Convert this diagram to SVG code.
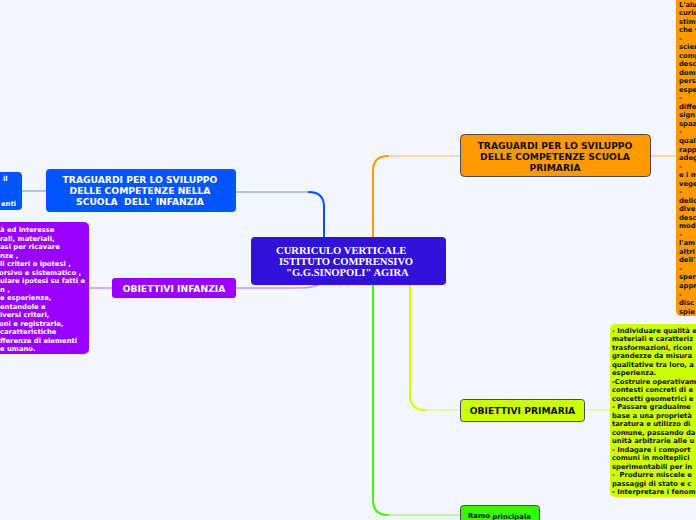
<svg xmlns="http://www.w3.org/2000/svg" width="696" height="520" viewBox="0 0 696 520">
<style>
.t{font-family:"DejaVu Sans",Verdana,sans-serif;font-weight:bold}
.h{font-size:9.2px;text-anchor:middle}
.b{font-size:6.8px}
.w{fill:#ffffff}
.k{fill:#111111}
.p{white-space:pre}
.c{font-family:"Liberation Serif","Times New Roman",serif;font-weight:bold;font-size:10.6px;fill:#ffffff}
.lk{fill:none;stroke-width:2;stroke-linecap:round}
.lt{fill:none;stroke-width:1.6;stroke-opacity:0.4}
.bd{stroke:#4a4a4a;stroke-width:1}
</style>
<rect x="0" y="0" width="696" height="520" fill="#f3f6fe"/>
<g id="connectors">
<path class="lk" d="M324,237 V207 Q324,192 309,192" stroke="#0055ff"/>
<path class="lt" d="M309,192 H236" stroke="#0055ff"/>
<path class="lt" d="M22,191 H46" stroke="#0055ff"/>
<path class="lk" d="M373,237 V171 Q373,156 388,156" stroke="#ff9900"/>
<path class="lt" d="M388,156 H461" stroke="#ff9900"/>
<path class="lt" d="M651,156 H676" stroke="#ff9900"/>
<path class="lk" d="M410,285 V395 Q410,410 425,410" stroke="#ccff00"/>
<path class="lt" d="M425,410 H460" stroke="#ccff00"/>
<path class="lt" d="M585,410 H610" stroke="#ccff00"/>
<path class="lk" d="M373,285 V500 Q373,515 388,515" stroke="#33ff00"/>
<path class="lt" d="M388,515 H461" stroke="#33ff00"/>
<path class="lt" d="M320,284 Q312,288 300,288 H236" stroke="#9900ff"/>
<path class="lt" d="M89,288 H112" stroke="#9900ff"/>
</g>
<g id="central">
<rect x="251" y="237" width="195" height="48" rx="4" fill="#3311dd"/>
<text class="c" x="276" y="254">CURRICULO VERTICALE</text>
<text class="c" x="279" y="265">ISTITUTO COMPRENSIVO</text>
<text class="c" x="286" y="276">"G.G.SINOPOLI" AGIRA</text>
</g>
<g id="traguardi-infanzia">
<rect x="46" y="169" width="190" height="43" rx="4" fill="#0055ff"/>
<text class="t h w" x="140" y="183">TRAGUARDI PER LO SVILUPPO</text>
<text class="t h w" x="140" y="194">DELLE COMPETENZE NELLA</text>
<text class="t h w p" x="140" y="205" xml:space="preserve">SCUOLA  DELL' INFANZIA</text>
</g>
<g id="traguardi-infanzia-testo">
<rect x="-10" y="172" width="32" height="38" rx="4" fill="#0055ff"/>
<text class="t b w" x="3" y="181">il</text>
<text class="t b w" x="1" y="206">enti</text>
</g>
<g id="obiettivi-infanzia">
<rect x="112" y="278" width="124" height="20" rx="3" fill="#9900ff"/>
<text class="t h w" x="174" y="292">OBIETTIVI INFANZIA</text>
</g>
<g id="obiettivi-infanzia-testo">
<rect x="-10" y="222" width="99" height="132" rx="5" fill="#9900ff"/>
<text class="t b w" x="0" y="232">
<tspan x="0">à ed interesse</tspan>
<tspan x="0" dy="8.5">rali, materiali,</tspan>
<tspan x="0" dy="8.5">asi per ricavare</tspan>
<tspan x="0" dy="8.5">nze ,</tspan>
<tspan x="0" dy="8.5">li criteri o ipotesi ,</tspan>
<tspan x="-1" dy="8.5">orsivo e sistematico ,</tspan>
<tspan x="0" dy="8.5">ulare ipotesi su fatti e</tspan>
<tspan x="0" dy="8.5">n ,</tspan>
<tspan x="0" dy="8.5">e esperienze,</tspan>
<tspan x="0" dy="8.5">entandole e</tspan>
<tspan x="0" dy="8.5">iversi criteri,</tspan>
<tspan x="-1" dy="8.5">oni e registrarle,</tspan>
<tspan x="0" dy="8.5">caratteristiche</tspan>
<tspan x="0" dy="8.5">fferenze di elementi</tspan>
<tspan x="0" dy="8.5">e umano.</tspan>
</text>
</g>
<g id="traguardi-primaria">
<rect class="bd" x="460.5" y="134.5" width="190" height="42" rx="4" fill="#ff9900"/>
<text class="t h k" x="555" y="149">TRAGUARDI PER LO SVILUPPO</text>
<text class="t h k" x="555" y="160">DELLE COMPETENZE SCUOLA</text>
<text class="t h k" x="555" y="171">PRIMARIA</text>
</g>
<g id="traguardi-primaria-testo">
<rect x="676" y="-10" width="30" height="326" rx="5" fill="#ff9900"/>
<text class="t b k" x="679" y="6.5">
<tspan x="679">L'alu</tspan>
<tspan x="679" dy="8.53">curio</tspan>
<tspan x="679" dy="8.53">stimo</tspan>
<tspan x="679" dy="8.53">che v</tspan>
<tspan x="679" dy="8.53">-</tspan>
<tspan x="679" dy="8.53">scien</tspan>
<tspan x="679" dy="8.53">comp</tspan>
<tspan x="679" dy="8.53">desc</tspan>
<tspan x="679" dy="8.53">dom</tspan>
<tspan x="679" dy="8.53">pers</tspan>
<tspan x="679" dy="8.53">espe</tspan>
<tspan x="679" dy="8.53">-</tspan>
<tspan x="679" dy="8.53">diffe</tspan>
<tspan x="679" dy="8.53">sign</tspan>
<tspan x="679" dy="8.53">spaz</tspan>
<tspan x="679" dy="8.53">-</tspan>
<tspan x="679" dy="8.53">quali</tspan>
<tspan x="679" dy="8.53">rapp</tspan>
<tspan x="679" dy="8.53">adeg</tspan>
<tspan x="679" dy="8.53">-</tspan>
<tspan x="679" dy="8.53">e i m</tspan>
<tspan x="679" dy="8.53">vege</tspan>
<tspan x="679" dy="8.53">-</tspan>
<tspan x="679" dy="8.53">dello</tspan>
<tspan x="679" dy="8.53">dive</tspan>
<tspan x="679" dy="8.53">desc</tspan>
<tspan x="679" dy="8.53">mod</tspan>
<tspan x="679" dy="8.53">-</tspan>
<tspan x="679" dy="8.53">l'am</tspan>
<tspan x="679" dy="8.53">altri</tspan>
<tspan x="679" dy="8.53">dell'</tspan>
<tspan x="679" dy="8.53">-</tspan>
<tspan x="679" dy="8.53">sper</tspan>
<tspan x="679" dy="8.53">appr</tspan>
<tspan x="679" dy="8.53">-</tspan>
<tspan x="679" dy="8.53">disc</tspan>
<tspan x="679" dy="8.53">spie</tspan>
</text>
</g>
<g id="obiettivi-primaria">
<rect class="bd" x="460.5" y="399.5" width="124" height="22" rx="3" fill="#ccff00"/>
<text class="t h k" x="522.5" y="414">OBIETTIVI PRIMARIA</text>
</g>
<g id="obiettivi-primaria-testo">
<rect x="610" y="324" width="96" height="173" rx="5" fill="#ccff00"/>
<text class="t b k p" x="612" y="332.5" xml:space="preserve"><tspan x="612">- Individuare qualità e</tspan><tspan x="612" dy="8.5">materiali e caratteriz</tspan><tspan x="612" dy="8.5">trasformazioni, ricon</tspan><tspan x="612" dy="8.5">grandezze da misura</tspan><tspan x="612" dy="8.5">qualitative tra loro, a</tspan><tspan x="612" dy="8.5">esperienza.</tspan><tspan x="612" dy="8.5">-Costruire operativam</tspan><tspan x="612" dy="8.5">contesti concreti di e</tspan><tspan x="612" dy="8.5">concetti geometrici e</tspan><tspan x="612" dy="8.5">- Passare gradualme</tspan><tspan x="612" dy="8.5">base a una proprietà</tspan><tspan x="612" dy="8.5">taratura e utilizzo di</tspan><tspan x="612" dy="8.5">comune, passando da</tspan><tspan x="612" dy="8.5">unità arbitrarie alle u</tspan><tspan x="612" dy="8.5">- Indagare i comport</tspan><tspan x="612" dy="8.5">comuni in molteplici</tspan><tspan x="612" dy="8.5">sperimentabili per in</tspan><tspan x="612" dy="8.5">-  Produrre miscele e</tspan><tspan x="612" dy="8.5">passaggi di stato e c</tspan><tspan x="612" dy="8.5">- Interpretare i fenom</tspan></text>
</g>
<g id="ramo-principale">
<rect class="bd" x="460.5" y="505.5" width="79" height="20" rx="3" fill="#33ff00"/>
<text class="t k" font-size="6.9" x="468" y="518">Ramo <tspan dy="1">principale</tspan></text>
</g>
</svg>
